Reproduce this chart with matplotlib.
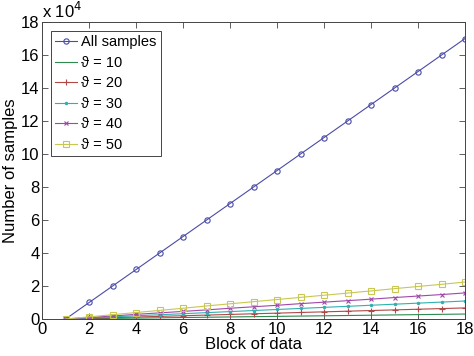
import matplotlib
matplotlib.use("Agg")
import matplotlib.pyplot as plt
from matplotlib.ticker import FuncFormatter

plt.rcParams.update({"font.family": ["Liberation Sans", "DejaVu Sans"], "font.size": 12,
                     "xtick.direction": "in", "ytick.direction": "in",
                     "xtick.top": True, "ytick.right": True})

blocks = list(range(1, 19))
all_samples = [0, 10000, 20000, 30000, 40000, 50000, 60000, 70000, 80000, 90000,
               100000, 110000, 120000, 130000, 140000, 150000, 160000, 170000]
theta10 = [0, 180, 350, 530, 700, 880, 1050, 1230, 1400, 1580, 1760, 1930, 2110, 2280, 2460, 2640, 2810, 3000]
theta20 = [0, 400, 790, 1180, 1580, 1970, 2360, 2760, 3150, 3540, 3940, 4330, 4720, 5120, 5510, 5900, 6300, 6700]
theta30 = [0, 640, 1280, 1920, 2560, 3200, 3840, 4480, 5120, 5760, 6400, 7040, 7680, 8320, 8960, 9600, 10240, 10900]
theta40 = [0, 900, 1800, 2800, 3700, 4600, 5500, 6500, 7400, 8300, 9300, 10200, 11100, 12000, 13000, 13900, 14800, 15800]
theta50 = [0, 1300, 2600, 3900, 5200, 6500, 7900, 9200, 10500, 11800, 13100, 14400, 15700, 17000, 18400, 19700, 21000, 22400]
labels = ["All samples", "ϑ = 10", "ϑ = 20", "ϑ = 30", "ϑ = 40", "ϑ = 50"]

fig = plt.figure(figsize=(4.74, 3.56), dpi=100)
ax = fig.add_axes([0.089, 0.104, 0.892, 0.834])
lw = 0.8
ax.plot(blocks, all_samples, color="#4b4ba8", lw=lw, marker="o", ms=3.8, mfc="none", mew=0.8, label=labels[0])
ax.plot(blocks, theta10, color="#2e8a4e", lw=lw, label=labels[1])
ax.plot(blocks, theta20, color="#b04848", lw=lw, marker="+", ms=5, mew=0.8, label=labels[2])
ax.plot(blocks, theta30, color="#30b0b0", lw=lw, marker=".", ms=3, label=labels[3])
ax.plot(blocks, theta40, color="#a048a8", lw=lw, marker="x", ms=3, mew=0.8, label=labels[4])
ax.plot(blocks, theta50, color="#c8c850", lw=lw, marker="s", ms=4.5, mfc="none", mew=0.8, label=labels[5])

ax.set_xlim(0, 18); ax.set_ylim(0, 180000)
ax.set_xticks(range(0, 19, 2)); ax.set_yticks(range(0, 180001, 20000))
ax.yaxis.set_major_formatter(FuncFormatter(lambda v, p: f"{v/1e4:g}"))
ax.tick_params(length=4, width=0.6, pad=2, labelsize=12, color="#444444")
for s in ax.spines.values():
    s.set_linewidth(0.7); s.set_color("#444444")
ax.text(0.0, 1.003, r"x 10$^4$", transform=ax.transAxes, fontsize=12, ha="left", va="bottom")
ax.set_xlabel("Block of data", labelpad=0)
ax.set_ylabel("Number of samples", labelpad=2)
leg = ax.legend(loc="upper left", fancybox=False, edgecolor="#444444", framealpha=1, fontsize=10.5,
                handlelength=1.5, handletextpad=0.25, labelspacing=0.45, borderpad=0.3, borderaxespad=0.6)
leg.get_frame().set_linewidth(0.7)
fig.savefig("out.png")
